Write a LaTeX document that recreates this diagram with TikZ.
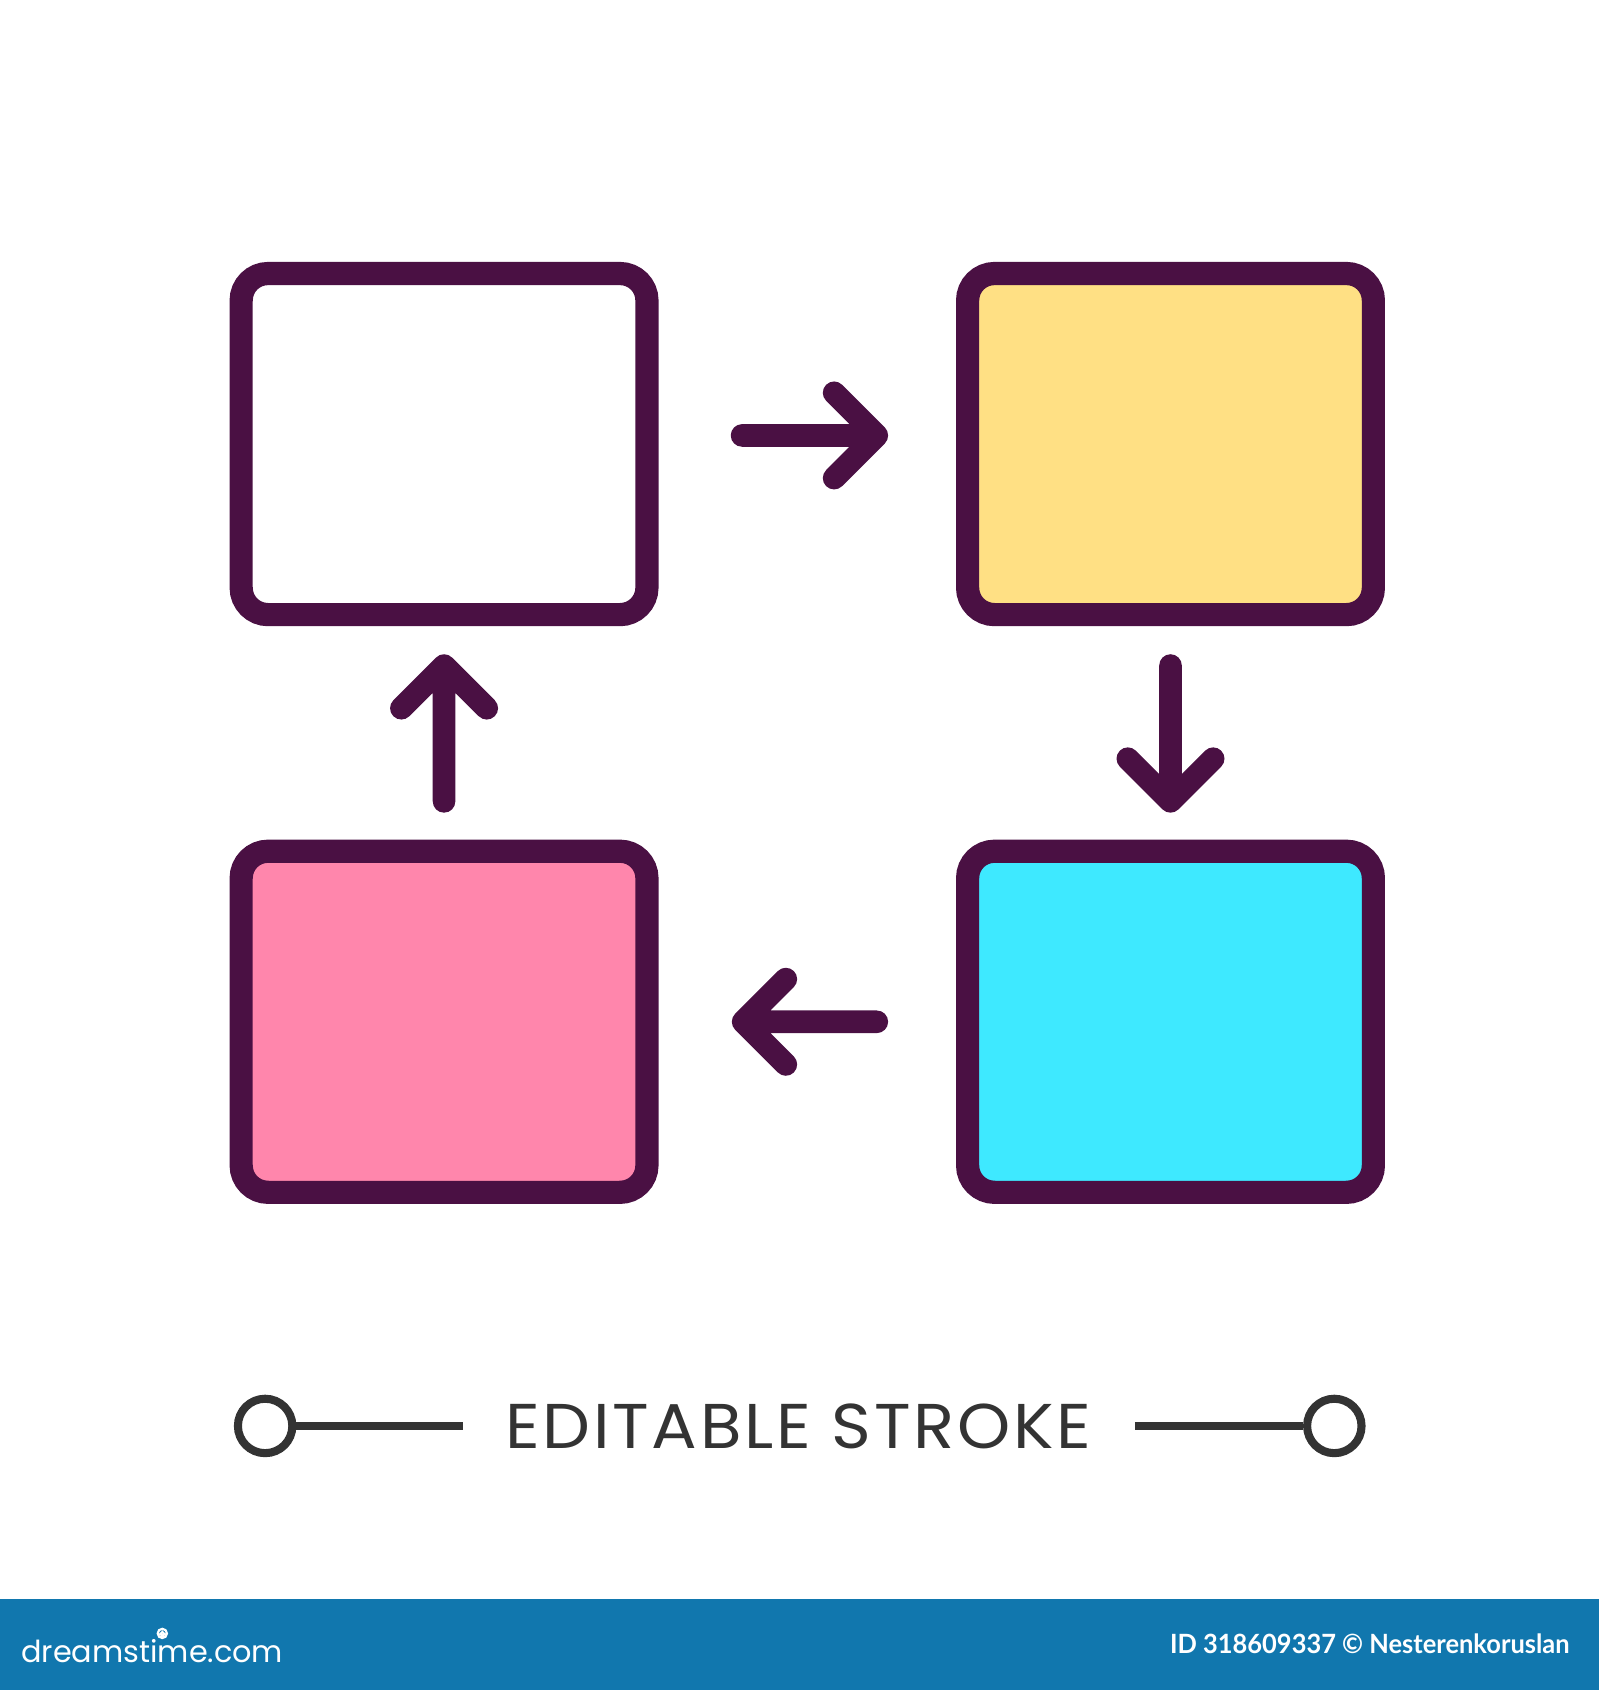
\documentclass[tikz,border=0pt]{standalone}
\usepackage{fontspec}
\usetikzlibrary{calc}
\newfontfamily\legendfont{Poppins}
\newfontfamily\creditfont{Lato}
\definecolor{ink}{HTML}{4A1043}
\definecolor{sunny}{HTML}{FFE084}
\definecolor{candy}{HTML}{FF86AC}
\definecolor{aqua}{HTML}{3EE9FF}
\definecolor{graphite}{HTML}{333333}
\definecolor{banner}{HTML}{1177AE}
\tikzset{
  card/.style={draw=ink, line width=2.15mm, rounded corners=2.5mm,
    minimum width=37.65mm, minimum height=31.65mm, inner sep=0pt},
  flow/.style={draw=ink, line width=2.1mm, line cap=round, line join=round,
    to path={-- (\tikztotarget)
      ($(\tikztotarget)!5.6mm!45:(\tikztostart)$) -- (\tikztotarget)
      -- ($(\tikztotarget)!5.6mm!-45:(\tikztostart)$)}},
  knob/.style={circle, draw=graphite, line width=0.75mm, minimum size=5.05mm, inner sep=0pt},
  legendline/.style={draw=graphite, line width=0.75mm}
}
\begin{document}
\begin{tikzpicture}[x=0.1mm,y=-0.1mm]
  \useasboundingbox (0,0) rectangle (1484,1568);
  % the four cards
  \node[card, fill=white] (tl) at (412,412) {};
  \node[card, fill=sunny] (tr) at (1086,412) {};
  \node[card, fill=aqua]  (br) at (1086,948) {};
  \node[card, fill=candy] (bl) at (412,948) {};
  % cycle arrows
  \draw[flow] ([xshift=7.75mm,yshift=0.8mm]tl.east) to ([xshift=-7.35mm,yshift=0.8mm]tr.west);
  \draw[flow] ([yshift=-3.65mm]tr.south) to ([yshift=3.55mm]br.north);
  \draw[flow] ([xshift=-7.35mm]br.west) to ([xshift=7.85mm]bl.east);
  \draw[flow] ([yshift=3.55mm]bl.north) to ([yshift=-3.65mm]tl.south);
  % legend
  \node[knob] (lk) at (246,1323) {};
  \node[knob] (rk) at (1238,1323) {};
  \coordinate (lend) at (430,1323);
  \coordinate (rend) at (1053,1323);
  \draw[legendline] (lk) -- (lend);
  \draw[legendline] (rend) -- (rk);
  \node[anchor=base, inner sep=0pt, text=graphite,
    font=\legendfont\addfontfeature{LetterSpace=4}\fontsize{16.7}{20}\selectfont] (caption) at (740.5,1344)
    {\scalebox{1.07}[1]{EDITABLE STROKE}};
  % banner
  \fill[banner] (0,1484) rectangle (1484,1568);
  \node[anchor=base west, inner sep=0pt, text=white,
    font=\legendfont\fontsize{8}{10}\selectfont] (site) at (19,1542) {dreamstime.com};
  \draw[white, line width=0.2mm] (150.6,1515.5) circle[radius=4.3] (150.6,1516) circle[radius=1.8];
  \node[anchor=base east, inner sep=0pt, text=white,
    font=\creditfont\bfseries\fontsize{7}{9}\selectfont] (credit) at (1457,1534)
    {\scalebox{0.96}[1]{ID 318609337 © Nesterenkoruslan}};
\end{tikzpicture}
\end{document}
